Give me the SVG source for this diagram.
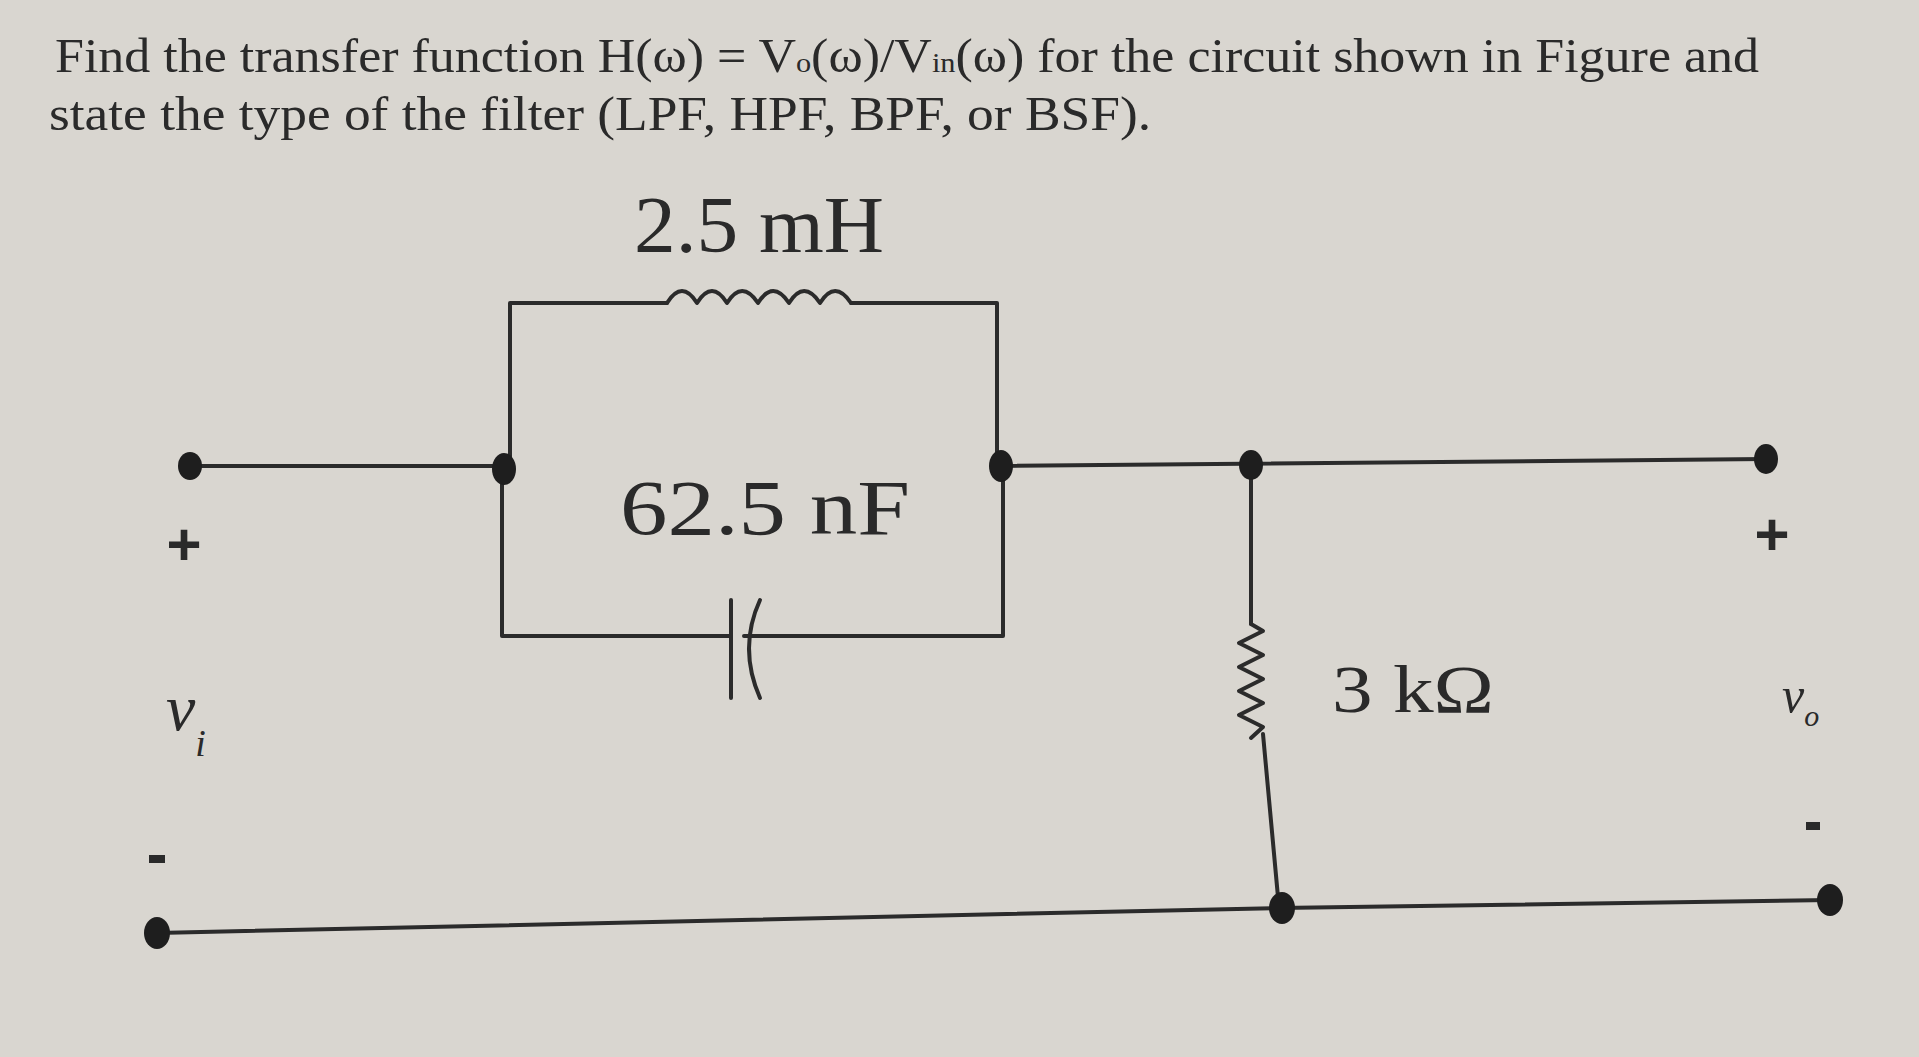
<svg xmlns="http://www.w3.org/2000/svg" width="1919" height="1057" viewBox="0 0 1919 1057">
<style>
.w{fill:none;stroke:#2b2b2b;stroke-width:4;stroke-linecap:round;stroke-linejoin:round}
.d{fill:#1e1e1e}
.t{font-family:"Liberation Serif",serif;fill:#2a2a2a}
</style>
<rect width="1919" height="1057" fill="#d9d6d0"/>
<g id="title" class="t" font-size="48">
<text x="55" y="72" textLength="1704" lengthAdjust="spacingAndGlyphs">Find the transfer function H(ω) = V<tspan font-size="28">o</tspan>(ω)/V<tspan font-size="28">in</tspan>(ω) for the circuit shown in Figure and</text>
<text x="49" y="130" textLength="1102" lengthAdjust="spacingAndGlyphs">state the type of the filter (LPF, HPF, BPF, or BSF).</text>
</g>
<g id="connectors">
<path class="w" d="M190 466 H502 M510 469 V303 H667 M851 303 H997 V466 M502 469 V636 H731 M744 636 H1003 V466 M1001 466 L1766 459"/>
<path class="w" d="M1251 465 V624 M1279 908 L1263 734 M157 933 L1279 908 L1830 900"/>
</g>
<g id="inductor"><path class="w" d="M667 303 q15 -24 30 0 q15 -24 30 0 q15 -24 31 0 q15 -24 31 0 q15 -24 31 0 q15 -24 31 0"/>
<text class="t" x="759" y="252" font-size="80" text-anchor="middle" textLength="250" lengthAdjust="spacingAndGlyphs">2.5 mH</text></g>
<g id="capacitor"><path class="w" d="M731 600 V698 M760 600 q-22 48 0 98"/>
<text class="t" x="765" y="534" font-size="78" text-anchor="middle" textLength="290" lengthAdjust="spacingAndGlyphs">62.5 nF</text></g>
<g id="resistor"><path class="w" d="M1251 624 l12 7 -24 12 24 12 -24 12 24 12 -24 12 24 12 -24 12 24 12 -12 11"/>
<text class="t" x="1332" y="712" font-size="68" textLength="162" lengthAdjust="spacingAndGlyphs">3 kΩ</text></g>
<g id="nodes">
<ellipse class="d" cx="190" cy="466" rx="12" ry="14"/>
<ellipse class="d" cx="504" cy="469" rx="12" ry="16"/>
<ellipse class="d" cx="1001" cy="466" rx="12" ry="16"/>
<ellipse class="d" cx="1251" cy="465" rx="12" ry="15"/>
<ellipse class="d" cx="1766" cy="459" rx="12" ry="15"/>
<ellipse class="d" cx="157" cy="933" rx="13" ry="16"/>
<ellipse class="d" cx="1282" cy="908" rx="13" ry="16"/>
<ellipse class="d" cx="1830" cy="900" rx="13" ry="16"/>
</g>
<g id="labels" class="t">
<text x="184" y="565" font-size="60" font-family="Liberation Sans,sans-serif" font-weight="bold" text-anchor="middle">+</text>
<text x="166" y="730" font-size="66" font-style="italic">v<tspan font-size="38" dy="26">i</tspan></text>
<rect x="149" y="855" width="16" height="8" fill="#2a2a2a"/>
<text x="1772" y="555" font-size="60" font-family="Liberation Sans,sans-serif" font-weight="bold" text-anchor="middle">+</text>
<text x="1782" y="712" font-size="50" font-style="italic">v<tspan font-size="30" dy="14">o</tspan></text>
<rect x="1806" y="822" width="14" height="8" fill="#2a2a2a"/>
</g>
</svg>
